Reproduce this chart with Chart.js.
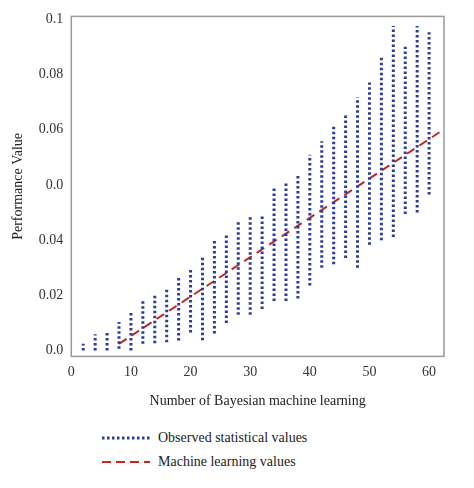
<!DOCTYPE html>
<html>
<head>
<meta charset="utf-8">
<script src="https://cdn.jsdelivr.net/npm/chart.js@4"></script>
<style>
  body { margin: 0; background: #fff; font-family: "Liberation Serif", serif; }
  #wrap { position: relative; width: 474px; height: 420px; }
  .legend { position: absolute; left: 102px; font-size: 14px; color: #222; display: flex; align-items: center; }
  .legend svg { margin-right: 8px; }
</style>
</head>
<body>
<div id="wrap"><canvas id="chart" width="474" height="420"></canvas></div>
<div class="legend" style="top:430px">
  <svg width="48" height="6"><line x1="0" y1="3" x2="48" y2="3" stroke="#2a3c9c" stroke-width="3" stroke-dasharray="2.5,2.5"/></svg>
  Observed statistical values</div>
<div class="legend" style="top:454px">
  <svg width="48" height="6"><line x1="0" y1="3" x2="48" y2="3" stroke="#c4281c" stroke-width="2" stroke-dasharray="9,5"/></svg>
  Machine learning values</div>
<script>
// ==== Data ====
const xs = [2,4,6,8,10,12,14,16,18,20,22,24,26,28,30,32,34,36,38,40,42,44,46,48,50,52,54,56,58,60];
const lows = [0,0,0,0.0005,0,0.002,0.0022,0.0025,0.003,0.0054,0.0031,0.0051,0.0083,0.0108,0.0108,
  0.0125,0.0149,0.0149,0.0157,0.0196,0.025,0.026,0.0279,0.025,0.0319,0.0333,0.0343,0.0412,0.0417,0.0471];
const highs = [0.002,0.0049,0.0059,0.0086,0.0116,0.0154,0.0169,0.0191,0.022,0.0245,0.0282,0.0337,0.0353,0.0387,0.0407,
  0.0412,0.0492,0.0507,0.0529,0.0591,0.0632,0.0678,0.0714,0.0765,0.0809,0.0884,0.098,0.0917,0.098,0.0961];
const mlX = [8, 62];
const mlY = [0.002, 0.0662];
const xTicks = [0, 10, 20, 30, 40, 50, 60];
const yTickLabels = ["0.0", "0.02", "0.04", "0.0", "0.06", "0.08", "0.1"];

// build dotted vertical ranges as one line with gaps
const rangePts = [];
xs.forEach((x, i) => {
  rangePts.push({ x: x, y: lows[i] }, { x: x, y: highs[i] }, { x: x, y: null });
});

const ctx = document.getElementById("chart").getContext("2d");
const font = { family: "Liberation Serif", size: 14 };

// plot frame
const frame = {
  id: "frame",
  afterDraw(c) {
    const a = c.chartArea, g = c.ctx;
    g.save();
    g.strokeStyle = "#9a9a9a";
    g.lineWidth = 1.5;
    g.strokeRect(a.left, a.top, a.right - a.left, a.bottom - a.top);
    g.restore();
  }
};

new Chart(ctx, {
  type: "line",
  data: {
    datasets: [{
      data: rangePts,
      borderColor: "#2a3c9c",
      borderWidth: 3,
      borderDash: [2.5, 2.5],
      pointRadius: 0,
      spanGaps: false
    }, {
      data: mlX.map((x, i) => ({ x: x, y: mlY[i] })),
      borderColor: "#c4281c",
      borderWidth: 2,
      borderDash: [9, 6],
      pointRadius: 0
    }]
  },
  options: {
    responsive: false,
    animation: false,
    layout: { padding: { left: 6, right: 30, top: 16, bottom: 6 } },
    plugins: { legend: { display: false }, tooltip: { enabled: false } },
    scales: {
      x: {
        type: "linear", min: 0, max: 62.5,
        afterBuildTicks: s => { s.ticks = xTicks.map(v => ({ value: v })); },
        grid: { display: false, drawTicks: false },
        border: { display: false },
        ticks: { color: "#333", font: font, padding: 8, autoSkip: false, maxRotation: 0 },
        title: { display: true, text: "Number of Bayesian machine learning", color: "#222", font: font, padding: { top: 4 } }
      },
      y: {
        min: -0.0018, max: 0.1009,
        afterBuildTicks: s => { s.ticks = yTickLabels.map((_, i) => ({ value: 0.1 * i / 6 })); },
        grid: { display: false, drawTicks: false },
        border: { display: false },
        ticks: { color: "#333", font: font, padding: 8,
          callback: (v, i) => yTickLabels[i] },
        title: { display: true, text: "Performance Value", color: "#222", font: font }
      }
    }
  },
  plugins: [frame]
});
</script>
</body>
</html>
